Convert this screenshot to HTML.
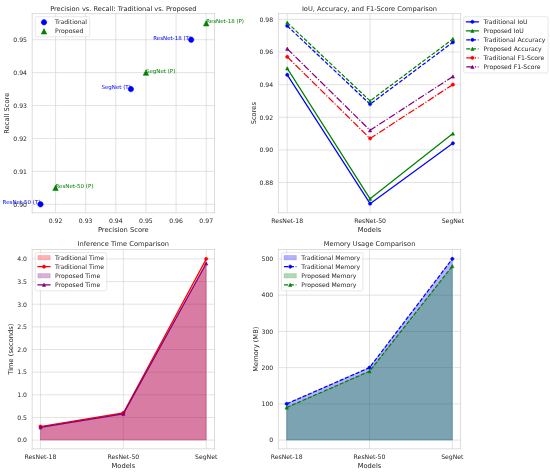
<!DOCTYPE html>
<html><head><meta charset="utf-8"><title>Model comparison</title>
<style>html,body{margin:0;padding:0;background:#fff}svg{display:block}</style></head>
<body>
<svg width="550" height="473" viewBox="0 0 1008 866.88" preserveAspectRatio="none">
 
 <defs>
  <style type="text/css">*{stroke-linejoin: round; stroke-linecap: butt}</style>
 </defs>
 <g id="figure_1">
  <g id="patch_1">
   <path d="M 0 866.88 
L 1008 866.88 
L 1008 0 
L 0 0 
z
" style="fill: #ffffff"/>
  </g>
  <g id="axes_1">
   <g id="patch_2">
    <path d="M 59.013818 389.912727 
L 393.12 389.912727 
L 393.12 24.925091 
L 59.013818 24.925091 
z
" style="fill: #ffffff"/>
   </g>
   <g id="matplotlib.axis_1">
    <g id="xtick_1">
     <g id="line2d_1">
      <path d="M 101.812544 389.912727 
L 101.812544 24.925091 
" clip-path="url(#pff23d3d60e)" style="fill: none; stroke: #cccccc; stroke-linecap: round"/>
     </g>
     <g id="text_1">
      <text style="font-size: 11.275px; font-family: 'DejaVu Sans', sans-serif; text-anchor: middle; fill: #262626" x="101.812544" y="407.979966" transform="rotate(-0 101.812544 407.979966)">0.92</text>
     </g>
    </g>
    <g id="xtick_2">
     <g id="line2d_2">
      <path d="M 157.036706 389.912727 
L 157.036706 24.925091 
" clip-path="url(#pff23d3d60e)" style="fill: none; stroke: #cccccc; stroke-linecap: round"/>
     </g>
     <g id="text_2">
      <text style="font-size: 11.275px; font-family: 'DejaVu Sans', sans-serif; text-anchor: middle; fill: #262626" x="157.036706" y="407.979966" transform="rotate(-0 157.036706 407.979966)">0.93</text>
     </g>
    </g>
    <g id="xtick_3">
     <g id="line2d_3">
      <path d="M 212.260869 389.912727 
L 212.260869 24.925091 
" clip-path="url(#pff23d3d60e)" style="fill: none; stroke: #cccccc; stroke-linecap: round"/>
     </g>
     <g id="text_3">
      <text style="font-size: 11.275px; font-family: 'DejaVu Sans', sans-serif; text-anchor: middle; fill: #262626" x="212.260869" y="407.979966" transform="rotate(-0 212.260869 407.979966)">0.94</text>
     </g>
    </g>
    <g id="xtick_4">
     <g id="line2d_4">
      <path d="M 267.485031 389.912727 
L 267.485031 24.925091 
" clip-path="url(#pff23d3d60e)" style="fill: none; stroke: #cccccc; stroke-linecap: round"/>
     </g>
     <g id="text_4">
      <text style="font-size: 11.275px; font-family: 'DejaVu Sans', sans-serif; text-anchor: middle; fill: #262626" x="267.485031" y="407.979966" transform="rotate(-0 267.485031 407.979966)">0.95</text>
     </g>
    </g>
    <g id="xtick_5">
     <g id="line2d_5">
      <path d="M 322.709193 389.912727 
L 322.709193 24.925091 
" clip-path="url(#pff23d3d60e)" style="fill: none; stroke: #cccccc; stroke-linecap: round"/>
     </g>
     <g id="text_5">
      <text style="font-size: 11.275px; font-family: 'DejaVu Sans', sans-serif; text-anchor: middle; fill: #262626" x="322.709193" y="407.979966" transform="rotate(-0 322.709193 407.979966)">0.96</text>
     </g>
    </g>
    <g id="xtick_6">
     <g id="line2d_6">
      <path d="M 377.933355 389.912727 
L 377.933355 24.925091 
" clip-path="url(#pff23d3d60e)" style="fill: none; stroke: #cccccc; stroke-linecap: round"/>
     </g>
     <g id="text_6">
      <text style="font-size: 11.275px; font-family: 'DejaVu Sans', sans-serif; text-anchor: middle; fill: #262626" x="377.933355" y="407.979966" transform="rotate(-0 377.933355 407.979966)">0.97</text>
     </g>
    </g>
    <g id="text_7">
     <text style="font-size: 12.3px; font-family: 'DejaVu Sans', sans-serif; text-anchor: middle; fill: #262626" x="226.066909" y="425.470891" transform="rotate(-0 226.066909 425.470891)">Precision Score</text>
    </g>
   </g>
   <g id="matplotlib.axis_2">
    <g id="ytick_1">
     <g id="line2d_7">
      <path d="M 59.013818 374.408294 
L 393.12 374.408294 
" clip-path="url(#pff23d3d60e)" style="fill: none; stroke: #cccccc; stroke-linecap: round"/>
     </g>
     <g id="text_8">
      <text style="font-size: 11.275px; font-family: 'DejaVu Sans', sans-serif; text-anchor: end; fill: #262626" x="49.513818" y="378.691913" transform="rotate(-0 49.513818 378.691913)">0.90</text>
     </g>
    </g>
    <g id="ytick_2">
     <g id="line2d_8">
      <path d="M 59.013818 314.079759 
L 393.12 314.079759 
" clip-path="url(#pff23d3d60e)" style="fill: none; stroke: #cccccc; stroke-linecap: round"/>
     </g>
     <g id="text_9">
      <text style="font-size: 11.275px; font-family: 'DejaVu Sans', sans-serif; text-anchor: end; fill: #262626" x="49.513818" y="318.363378" transform="rotate(-0 49.513818 318.363378)">0.91</text>
     </g>
    </g>
    <g id="ytick_3">
     <g id="line2d_9">
      <path d="M 59.013818 253.751224 
L 393.12 253.751224 
" clip-path="url(#pff23d3d60e)" style="fill: none; stroke: #cccccc; stroke-linecap: round"/>
     </g>
     <g id="text_10">
      <text style="font-size: 11.275px; font-family: 'DejaVu Sans', sans-serif; text-anchor: end; fill: #262626" x="49.513818" y="258.034843" transform="rotate(-0 49.513818 258.034843)">0.92</text>
     </g>
    </g>
    <g id="ytick_4">
     <g id="line2d_10">
      <path d="M 59.013818 193.422689 
L 393.12 193.422689 
" clip-path="url(#pff23d3d60e)" style="fill: none; stroke: #cccccc; stroke-linecap: round"/>
     </g>
     <g id="text_11">
      <text style="font-size: 11.275px; font-family: 'DejaVu Sans', sans-serif; text-anchor: end; fill: #262626" x="49.513818" y="197.706308" transform="rotate(-0 49.513818 197.706308)">0.93</text>
     </g>
    </g>
    <g id="ytick_5">
     <g id="line2d_11">
      <path d="M 59.013818 133.094154 
L 393.12 133.094154 
" clip-path="url(#pff23d3d60e)" style="fill: none; stroke: #cccccc; stroke-linecap: round"/>
     </g>
     <g id="text_12">
      <text style="font-size: 11.275px; font-family: 'DejaVu Sans', sans-serif; text-anchor: end; fill: #262626" x="49.513818" y="137.377773" transform="rotate(-0 49.513818 137.377773)">0.94</text>
     </g>
    </g>
    <g id="ytick_6">
     <g id="line2d_12">
      <path d="M 59.013818 72.765619 
L 393.12 72.765619 
" clip-path="url(#pff23d3d60e)" style="fill: none; stroke: #cccccc; stroke-linecap: round"/>
     </g>
     <g id="text_13">
      <text style="font-size: 11.275px; font-family: 'DejaVu Sans', sans-serif; text-anchor: end; fill: #262626" x="49.513818" y="77.049238" transform="rotate(-0 49.513818 77.049238)">0.95</text>
     </g>
    </g>
    <g id="text_14">
     <text style="font-size: 12.3px; font-family: 'DejaVu Sans', sans-serif; text-anchor: middle; fill: #262626" x="17.35131" y="207.418909" transform="rotate(-90 17.35131 207.418909)">Recall Score</text>
    </g>
   </g>
   <g id="PathCollection_1">
    
    <g clip-path="url(#pff23d3d60e)">
     <path d="M 0 5  C 1.326016 5 2.597899 4.473168 3.535534 3.535534  C 4.473168 2.597899 5 1.326016 5 0  C 5 -1.326016 4.473168 -2.597899 3.535534 -3.535534  C 2.597899 -4.473168 1.326016 -5 0 -5  C -1.326016 -5 -2.597899 -4.473168 -3.535534 -3.535534  C -4.473168 -2.597899 -5 -1.326016 -5 0  C -5 1.326016 -4.473168 2.597899 -3.535534 3.535534  C -2.597899 4.473168 -1.326016 5 0 5  z " transform="translate(350.321274 72.765619)" style="stroke: #0000ff;fill: #0000ff; stroke: #0000ff"/>
     <path d="M 0 5  C 1.326016 5 2.597899 4.473168 3.535534 3.535534  C 4.473168 2.597899 5 1.326016 5 0  C 5 -1.326016 4.473168 -2.597899 3.535534 -3.535534  C 2.597899 -4.473168 1.326016 -5 0 -5  C -1.326016 -5 -2.597899 -4.473168 -3.535534 -3.535534  C -4.473168 -2.597899 -5 -1.326016 -5 0  C -5 1.326016 -4.473168 2.597899 -3.535534 3.535534  C -2.597899 4.473168 -1.326016 5 0 5  z " transform="translate(74.200463 374.408294)" style="stroke: #0000ff;fill: #0000ff; stroke: #0000ff"/>
     <path d="M 0 5  C 1.326016 5 2.597899 4.473168 3.535534 3.535534  C 4.473168 2.597899 5 1.326016 5 0  C 5 -1.326016 4.473168 -2.597899 3.535534 -3.535534  C 2.597899 -4.473168 1.326016 -5 0 -5  C -1.326016 -5 -2.597899 -4.473168 -3.535534 -3.535534  C -4.473168 -2.597899 -5 -1.326016 -5 0  C -5 1.326016 -4.473168 2.597899 -3.535534 3.535534  C -2.597899 4.473168 -1.326016 5 0 5  z " transform="translate(239.87295 163.258422)" style="stroke: #0000ff;fill: #0000ff; stroke: #0000ff"/>
    </g>
   </g>
   <g id="PathCollection_2">
    
    <g clip-path="url(#pff23d3d60e)">
     <path d="M 0 -5  L -5 5  L 5 5  z " transform="translate(377.933355 42.601352)" style="stroke: #008000;fill: #008000; stroke: #008000"/>
     <path d="M 0 -5  L -5 5  L 5 5  z " transform="translate(101.812544 344.244026)" style="stroke: #008000;fill: #008000; stroke: #008000"/>
     <path d="M 0 -5  L -5 5  L 5 5  z " transform="translate(267.485031 133.094154)" style="stroke: #008000;fill: #008000; stroke: #008000"/>
    </g>
   </g>
   <g id="patch_3">
    <path d="M 59.013818 389.912727 
L 59.013818 24.925091 
" style="fill: none; stroke: #cccccc; stroke-width: 1.25; stroke-linejoin: miter; stroke-linecap: square"/>
   </g>
   <g id="patch_4">
    <path d="M 393.12 389.912727 
L 393.12 24.925091 
" style="fill: none; stroke: #cccccc; stroke-width: 1.25; stroke-linejoin: miter; stroke-linecap: square"/>
   </g>
   <g id="patch_5">
    <path d="M 59.013818 389.912727 
L 393.12 389.912727 
" style="fill: none; stroke: #cccccc; stroke-width: 1.25; stroke-linejoin: miter; stroke-linecap: square"/>
   </g>
   <g id="patch_6">
    <path d="M 59.013818 24.925091 
L 393.12 24.925091 
" style="fill: none; stroke: #cccccc; stroke-width: 1.25; stroke-linejoin: miter; stroke-linecap: square"/>
   </g>
   <g id="text_15">
    <text style="font-size: 10.1px; font-family: 'DejaVu Sans', sans-serif; text-anchor: end; fill: #0000ff" x="350.321274" y="72.765619" transform="rotate(-0 350.321274 72.765619)">ResNet-18 (T)</text>
   </g>
   <g id="text_16">
    <text style="font-size: 10.1px; font-family: 'DejaVu Sans', sans-serif; text-anchor: start; fill: #008000" x="377.933355" y="42.601352" transform="rotate(-0 377.933355 42.601352)">ResNet-18 (P)</text>
   </g>
   <g id="text_17">
    <text style="font-size: 10.1px; font-family: 'DejaVu Sans', sans-serif; text-anchor: end; fill: #0000ff" x="74.200463" y="374.408294" transform="rotate(-0 74.200463 374.408294)">ResNet-50 (T)</text>
   </g>
   <g id="text_18">
    <text style="font-size: 10.1px; font-family: 'DejaVu Sans', sans-serif; text-anchor: start; fill: #008000" x="101.812544" y="344.244026" transform="rotate(-0 101.812544 344.244026)">ResNet-50 (P)</text>
   </g>
   <g id="text_19">
    <text style="font-size: 10.1px; font-family: 'DejaVu Sans', sans-serif; text-anchor: end; fill: #0000ff" x="239.87295" y="163.258422" transform="rotate(-0 239.87295 163.258422)">SegNet (T)</text>
   </g>
   <g id="text_20">
    <text style="font-size: 10.1px; font-family: 'DejaVu Sans', sans-serif; text-anchor: start; fill: #008000" x="267.485031" y="133.094154" transform="rotate(-0 267.485031 133.094154)">SegNet (P)</text>
   </g>
   <g id="text_21">
    <text style="font-size: 12.2px; font-family: 'DejaVu Sans', sans-serif; text-anchor: middle; fill: #262626" x="226.066909" y="19.425091" transform="rotate(-0 226.066909 19.425091)">Precision vs. Recall: Traditional vs. Proposed</text>
   </g>
   <g id="legend_1">
    <g id="patch_7">
     <path d="M 66.906318 67.495263 
L 162.134263 67.495263 
Q 164.389263 67.495263 164.389263 65.240263 
L 164.389263 32.817591 
Q 164.389263 30.562591 162.134263 30.562591 
L 66.906318 30.562591 
Q 64.651318 30.562591 64.651318 32.817591 
L 64.651318 65.240263 
Q 64.651318 67.495263 66.906318 67.495263 
z
" style="fill: #ffffff; opacity: 0.8; stroke: #cccccc; stroke-linejoin: miter"/>
    </g>
    <g id="PathCollection_3">
     <g>
      <path d="M 0 5  C 1.326016 5 2.597899 4.473168 3.535534 3.535534  C 4.473168 2.597899 5 1.326016 5 0  C 5 -1.326016 4.473168 -2.597899 3.535534 -3.535534  C 2.597899 -4.473168 1.326016 -5 0 -5  C -1.326016 -5 -2.597899 -4.473168 -3.535534 -3.535534  C -4.473168 -2.597899 -5 -1.326016 -5 0  C -5 1.326016 -4.473168 2.597899 -3.535534 3.535534  C -2.597899 4.473168 -1.326016 5 0 5  z " transform="translate(80.661818 40.905642)" style="stroke: #0000ff;fill: #0000ff; stroke: #0000ff"/>
     </g>
    </g>
    <g id="text_22">
     <text style="font-size: 11.275px; font-family: 'DejaVu Sans', sans-serif; text-anchor: start; fill: #262626" x="100.956818" y="43.865329" transform="rotate(-0 100.956818 43.865329)">Traditional</text>
    </g>
    <g id="PathCollection_4">
     <g>
      <path d="M 0 -5  L -5 5  L 5 5  z " transform="translate(80.661818 57.455228)" style="stroke: #008000;fill: #008000; stroke: #008000"/>
     </g>
    </g>
    <g id="text_23">
     <text style="font-size: 11.275px; font-family: 'DejaVu Sans', sans-serif; text-anchor: start; fill: #262626" x="100.956818" y="60.414915" transform="rotate(-0 100.956818 60.414915)">Proposed</text>
    </g>
   </g>
  </g>
  <g id="axes_2">
   <g id="patch_8">
    <path d="M 510.231273 389.912727 
L 844.154182 389.912727 
L 844.154182 24.925091 
L 510.231273 24.925091 
z
" style="fill: #ffffff"/>
   </g>
   <g id="matplotlib.axis_3">
    <g id="xtick_7">
     <g id="line2d_13">
      <path d="M 526.472069 389.912727 
L 526.472069 24.925091 
" clip-path="url(#p5073bf8973)" style="fill: none; stroke: #cccccc; stroke-linecap: round"/>
     </g>
     <g id="text_24">
      <text style="font-size: 11.275px; font-family: 'DejaVu Sans', sans-serif; text-anchor: middle; fill: #262626" x="526.472069" y="407.979966" transform="rotate(-0 526.472069 407.979966)">ResNet-18</text>
     </g>
    </g>
    <g id="xtick_8">
     <g id="line2d_14">
      <path d="M 678.255209 389.912727 
L 678.255209 24.925091 
" clip-path="url(#p5073bf8973)" style="fill: none; stroke: #cccccc; stroke-linecap: round"/>
     </g>
     <g id="text_25">
      <text style="font-size: 11.275px; font-family: 'DejaVu Sans', sans-serif; text-anchor: middle; fill: #262626" x="678.255209" y="407.979966" transform="rotate(-0 678.255209 407.979966)">ResNet-50</text>
     </g>
    </g>
    <g id="xtick_9">
     <g id="line2d_15">
      <path d="M 830.03835 389.912727 
L 830.03835 24.925091 
" clip-path="url(#p5073bf8973)" style="fill: none; stroke: #cccccc; stroke-linecap: round"/>
     </g>
     <g id="text_26">
      <text style="font-size: 11.275px; font-family: 'DejaVu Sans', sans-serif; text-anchor: middle; fill: #262626" x="830.03835" y="407.979966" transform="rotate(-0 830.03835 407.979966)">SegNet</text>
     </g>
    </g>
    <g id="text_27">
     <text style="font-size: 12.3px; font-family: 'DejaVu Sans', sans-serif; text-anchor: middle; fill: #262626" x="677.192727" y="425.470891" transform="rotate(-0 677.192727 425.470891)">Models</text>
    </g>
   </g>
   <g id="matplotlib.axis_4">
    <g id="ytick_7">
     <g id="line2d_16">
      <path d="M 510.231273 334.462108 
L 844.154182 334.462108 
" clip-path="url(#p5073bf8973)" style="fill: none; stroke: #cccccc; stroke-linecap: round"/>
     </g>
     <g id="text_28">
      <text style="font-size: 11.275px; font-family: 'DejaVu Sans', sans-serif; text-anchor: end; fill: #262626" x="500.731273" y="338.745727" transform="rotate(-0 500.731273 338.745727)">0.88</text>
     </g>
    </g>
    <g id="ytick_8">
     <g id="line2d_17">
      <path d="M 510.231273 274.677073 
L 844.154182 274.677073 
" clip-path="url(#p5073bf8973)" style="fill: none; stroke: #cccccc; stroke-linecap: round"/>
     </g>
     <g id="text_29">
      <text style="font-size: 11.275px; font-family: 'DejaVu Sans', sans-serif; text-anchor: end; fill: #262626" x="500.731273" y="278.960692" transform="rotate(-0 500.731273 278.960692)">0.90</text>
     </g>
    </g>
    <g id="ytick_9">
     <g id="line2d_18">
      <path d="M 510.231273 214.892038 
L 844.154182 214.892038 
" clip-path="url(#p5073bf8973)" style="fill: none; stroke: #cccccc; stroke-linecap: round"/>
     </g>
     <g id="text_30">
      <text style="font-size: 11.275px; font-family: 'DejaVu Sans', sans-serif; text-anchor: end; fill: #262626" x="500.731273" y="219.175658" transform="rotate(-0 500.731273 219.175658)">0.92</text>
     </g>
    </g>
    <g id="ytick_10">
     <g id="line2d_19">
      <path d="M 510.231273 155.107004 
L 844.154182 155.107004 
" clip-path="url(#p5073bf8973)" style="fill: none; stroke: #cccccc; stroke-linecap: round"/>
     </g>
     <g id="text_31">
      <text style="font-size: 11.275px; font-family: 'DejaVu Sans', sans-serif; text-anchor: end; fill: #262626" x="500.731273" y="159.390623" transform="rotate(-0 500.731273 159.390623)">0.94</text>
     </g>
    </g>
    <g id="ytick_11">
     <g id="line2d_20">
      <path d="M 510.231273 95.321969 
L 844.154182 95.321969 
" clip-path="url(#p5073bf8973)" style="fill: none; stroke: #cccccc; stroke-linecap: round"/>
     </g>
     <g id="text_32">
      <text style="font-size: 11.275px; font-family: 'DejaVu Sans', sans-serif; text-anchor: end; fill: #262626" x="500.731273" y="99.605588" transform="rotate(-0 500.731273 99.605588)">0.96</text>
     </g>
    </g>
    <g id="ytick_12">
     <g id="line2d_21">
      <path d="M 510.231273 35.536935 
L 844.154182 35.536935 
" clip-path="url(#p5073bf8973)" style="fill: none; stroke: #cccccc; stroke-linecap: round"/>
     </g>
     <g id="text_33">
      <text style="font-size: 11.275px; font-family: 'DejaVu Sans', sans-serif; text-anchor: end; fill: #262626" x="500.731273" y="39.820554" transform="rotate(-0 500.731273 39.820554)">0.98</text>
     </g>
    </g>
    <g id="text_34">
     <text style="font-size: 12.3px; font-family: 'DejaVu Sans', sans-serif; text-anchor: middle; fill: #262626" x="468.568765" y="207.418909" transform="rotate(-90 468.568765 207.418909)">Scores</text>
    </g>
   </g>
   <g id="line2d_22">
    <path d="M 526.472069 137.171493 
L 678.255209 373.32238 
L 830.03835 262.720066 
" clip-path="url(#p5073bf8973)" style="fill: none; stroke: #0000ff; stroke-width: 2.25; stroke-linecap: round"/>
    
    <g clip-path="url(#p5073bf8973)">
     <path d="M 0 3  C 0.795609 3 1.55874 2.683901 2.12132 2.12132  C 2.683901 1.55874 3 0.795609 3 0  C 3 -0.795609 2.683901 -1.55874 2.12132 -2.12132  C 1.55874 -2.683901 0.795609 -3 0 -3  C -0.795609 -3 -1.55874 -2.683901 -2.12132 -2.12132  C -2.683901 -1.55874 -3 -0.795609 -3 0  C -3 0.795609 -2.683901 1.55874 -2.12132 2.12132  C -1.55874 2.683901 -0.795609 3 0 3  z " transform="translate(526.472069 137.171493)" style="stroke: #0000ff;fill: #0000ff; stroke: #0000ff"/>
     <path d="M 0 3  C 0.795609 3 1.55874 2.683901 2.12132 2.12132  C 2.683901 1.55874 3 0.795609 3 0  C 3 -0.795609 2.683901 -1.55874 2.12132 -2.12132  C 1.55874 -2.683901 0.795609 -3 0 -3  C -0.795609 -3 -1.55874 -2.683901 -2.12132 -2.12132  C -2.683901 -1.55874 -3 -0.795609 -3 0  C -3 0.795609 -2.683901 1.55874 -2.12132 2.12132  C -1.55874 2.683901 -0.795609 3 0 3  z " transform="translate(678.255209 373.32238)" style="stroke: #0000ff;fill: #0000ff; stroke: #0000ff"/>
     <path d="M 0 3  C 0.795609 3 1.55874 2.683901 2.12132 2.12132  C 2.683901 1.55874 3 0.795609 3 0  C 3 -0.795609 2.683901 -1.55874 2.12132 -2.12132  C 1.55874 -2.683901 0.795609 -3 0 -3  C -0.795609 -3 -1.55874 -2.683901 -2.12132 -2.12132  C -2.683901 -1.55874 -3 -0.795609 -3 0  C -3 0.795609 -2.683901 1.55874 -2.12132 2.12132  C -1.55874 2.683901 -0.795609 3 0 3  z " transform="translate(830.03835 262.720066)" style="stroke: #0000ff;fill: #0000ff; stroke: #0000ff"/>
    </g>
   </g>
   <g id="line2d_23">
    <path d="M 526.472069 125.214486 
L 678.255209 364.354625 
L 830.03835 244.784556 
" clip-path="url(#p5073bf8973)" style="fill: none; stroke: #008000; stroke-width: 2.25; stroke-linecap: round"/>
    
    <g clip-path="url(#p5073bf8973)">
     <path d="M 0 -3  L -3 3  L 3 3  z " transform="translate(526.472069 125.214486)" style="stroke: #008000; stroke-linejoin: miter;fill: #008000; stroke: #008000; stroke-linejoin: miter"/>
     <path d="M 0 -3  L -3 3  L 3 3  z " transform="translate(678.255209 364.354625)" style="stroke: #008000; stroke-linejoin: miter;fill: #008000; stroke: #008000; stroke-linejoin: miter"/>
     <path d="M 0 -3  L -3 3  L 3 3  z " transform="translate(830.03835 244.784556)" style="stroke: #008000; stroke-linejoin: miter;fill: #008000; stroke: #008000; stroke-linejoin: miter"/>
    </g>
   </g>
   <g id="line2d_24">
    <path d="M 526.472069 47.493941 
L 678.255209 190.978025 
L 830.03835 77.386459 
" clip-path="url(#p5073bf8973)" style="fill: none; stroke-dasharray: 7.4,3.2; stroke-dashoffset: 0; stroke: #0000ff; stroke-width: 2.25"/>
    <g clip-path="url(#p5073bf8973)">
     <path d="M 0 3  C 0.795609 3 1.55874 2.683901 2.12132 2.12132  C 2.683901 1.55874 3 0.795609 3 0  C 3 -0.795609 2.683901 -1.55874 2.12132 -2.12132  C 1.55874 -2.683901 0.795609 -3 0 -3  C -0.795609 -3 -1.55874 -2.683901 -2.12132 -2.12132  C -2.683901 -1.55874 -3 -0.795609 -3 0  C -3 0.795609 -2.683901 1.55874 -2.12132 2.12132  C -1.55874 2.683901 -0.795609 3 0 3  z " transform="translate(526.472069 47.493941)" style="stroke: #0000ff;fill: #0000ff; stroke: #0000ff"/>
     <path d="M 0 3  C 0.795609 3 1.55874 2.683901 2.12132 2.12132  C 2.683901 1.55874 3 0.795609 3 0  C 3 -0.795609 2.683901 -1.55874 2.12132 -2.12132  C 1.55874 -2.683901 0.795609 -3 0 -3  C -0.795609 -3 -1.55874 -2.683901 -2.12132 -2.12132  C -2.683901 -1.55874 -3 -0.795609 -3 0  C -3 0.795609 -2.683901 1.55874 -2.12132 2.12132  C -1.55874 2.683901 -0.795609 3 0 3  z " transform="translate(678.255209 190.978025)" style="stroke: #0000ff;fill: #0000ff; stroke: #0000ff"/>
     <path d="M 0 3  C 0.795609 3 1.55874 2.683901 2.12132 2.12132  C 2.683901 1.55874 3 0.795609 3 0  C 3 -0.795609 2.683901 -1.55874 2.12132 -2.12132  C 1.55874 -2.683901 0.795609 -3 0 -3  C -0.795609 -3 -1.55874 -2.683901 -2.12132 -2.12132  C -2.683901 -1.55874 -3 -0.795609 -3 0  C -3 0.795609 -2.683901 1.55874 -2.12132 2.12132  C -1.55874 2.683901 -0.795609 3 0 3  z " transform="translate(830.03835 77.386459)" style="stroke: #0000ff;fill: #0000ff; stroke: #0000ff"/>
    </g>
   </g>
   <g id="line2d_25">
    <path d="M 526.472069 41.515438 
L 678.255209 184.999521 
L 830.03835 71.407955 
" clip-path="url(#p5073bf8973)" style="fill: none; stroke-dasharray: 7.4,3.2; stroke-dashoffset: 0; stroke: #008000; stroke-width: 2.25"/>
    <g clip-path="url(#p5073bf8973)">
     <path d="M 0 -3  L -3 3  L 3 3  z " transform="translate(526.472069 41.515438)" style="stroke: #008000; stroke-linejoin: miter;fill: #008000; stroke: #008000; stroke-linejoin: miter"/>
     <path d="M 0 -3  L -3 3  L 3 3  z " transform="translate(678.255209 184.999521)" style="stroke: #008000; stroke-linejoin: miter;fill: #008000; stroke: #008000; stroke-linejoin: miter"/>
     <path d="M 0 -3  L -3 3  L 3 3  z " transform="translate(830.03835 71.407955)" style="stroke: #008000; stroke-linejoin: miter;fill: #008000; stroke: #008000; stroke-linejoin: miter"/>
    </g>
   </g>
   <g id="line2d_26">
    <path d="M 526.472069 104.289724 
L 678.255209 253.752311 
L 830.03835 155.107004 
" clip-path="url(#p5073bf8973)" style="fill: none; stroke-dasharray: 12.8,3.2,2,3.2; stroke-dashoffset: 0; stroke: #ff0000; stroke-width: 2.25"/>
    
    <g clip-path="url(#p5073bf8973)">
     <path d="M 0 3  C 0.795609 3 1.55874 2.683901 2.12132 2.12132  C 2.683901 1.55874 3 0.795609 3 0  C 3 -0.795609 2.683901 -1.55874 2.12132 -2.12132  C 1.55874 -2.683901 0.795609 -3 0 -3  C -0.795609 -3 -1.55874 -2.683901 -2.12132 -2.12132  C -2.683901 -1.55874 -3 -0.795609 -3 0  C -3 0.795609 -2.683901 1.55874 -2.12132 2.12132  C -1.55874 2.683901 -0.795609 3 0 3  z " transform="translate(526.472069 104.289724)" style="stroke: #ff0000;fill: #ff0000; stroke: #ff0000"/>
     <path d="M 0 3  C 0.795609 3 1.55874 2.683901 2.12132 2.12132  C 2.683901 1.55874 3 0.795609 3 0  C 3 -0.795609 2.683901 -1.55874 2.12132 -2.12132  C 1.55874 -2.683901 0.795609 -3 0 -3  C -0.795609 -3 -1.55874 -2.683901 -2.12132 -2.12132  C -2.683901 -1.55874 -3 -0.795609 -3 0  C -3 0.795609 -2.683901 1.55874 -2.12132 2.12132  C -1.55874 2.683901 -0.795609 3 0 3  z " transform="translate(678.255209 253.752311)" style="stroke: #ff0000;fill: #ff0000; stroke: #ff0000"/>
     <path d="M 0 3  C 0.795609 3 1.55874 2.683901 2.12132 2.12132  C 2.683901 1.55874 3 0.795609 3 0  C 3 -0.795609 2.683901 -1.55874 2.12132 -2.12132  C 1.55874 -2.683901 0.795609 -3 0 -3  C -0.795609 -3 -1.55874 -2.683901 -2.12132 -2.12132  C -2.683901 -1.55874 -3 -0.795609 -3 0  C -3 0.795609 -2.683901 1.55874 -2.12132 2.12132  C -1.55874 2.683901 -0.795609 3 0 3  z " transform="translate(830.03835 155.107004)" style="stroke: #ff0000;fill: #ff0000; stroke: #ff0000"/>
    </g>
   </g>
   <g id="line2d_27">
    <path d="M 526.472069 89.343466 
L 678.255209 238.806052 
L 830.03835 140.160745 
" clip-path="url(#p5073bf8973)" style="fill: none; stroke-dasharray: 12.8,3.2,2,3.2; stroke-dashoffset: 0; stroke: #800080; stroke-width: 2.25"/>
    
    <g clip-path="url(#p5073bf8973)">
     <path d="M 0 -3  L -3 3  L 3 3  z " transform="translate(526.472069 89.343466)" style="stroke: #800080; stroke-linejoin: miter;fill: #800080; stroke: #800080; stroke-linejoin: miter"/>
     <path d="M 0 -3  L -3 3  L 3 3  z " transform="translate(678.255209 238.806052)" style="stroke: #800080; stroke-linejoin: miter;fill: #800080; stroke: #800080; stroke-linejoin: miter"/>
     <path d="M 0 -3  L -3 3  L 3 3  z " transform="translate(830.03835 140.160745)" style="stroke: #800080; stroke-linejoin: miter;fill: #800080; stroke: #800080; stroke-linejoin: miter"/>
    </g>
   </g>
   <g id="patch_9">
    <path d="M 510.231273 389.912727 
L 510.231273 24.925091 
" style="fill: none; stroke: #cccccc; stroke-width: 1.25; stroke-linejoin: miter; stroke-linecap: square"/>
   </g>
   <g id="patch_10">
    <path d="M 844.154182 389.912727 
L 844.154182 24.925091 
" style="fill: none; stroke: #cccccc; stroke-width: 1.25; stroke-linejoin: miter; stroke-linecap: square"/>
   </g>
   <g id="patch_11">
    <path d="M 510.231273 389.912727 
L 844.154182 389.912727 
" style="fill: none; stroke: #cccccc; stroke-width: 1.25; stroke-linejoin: miter; stroke-linecap: square"/>
   </g>
   <g id="patch_12">
    <path d="M 510.231273 24.925091 
L 844.154182 24.925091 
" style="fill: none; stroke: #cccccc; stroke-width: 1.25; stroke-linejoin: miter; stroke-linecap: square"/>
   </g>
   <g id="text_35">
    <text style="font-size: 12.2px; font-family: 'DejaVu Sans', sans-serif; text-anchor: middle; fill: #262626" x="677.192727" y="19.425091" transform="rotate(-0 677.192727 19.425091)">IoU, Accuracy, and F1-Score Comparison</text>
   </g>
   <g id="legend_2">
    <g id="patch_13">
     <path d="M 852.046682 133.693607 
L 1002.335385 133.693607 
Q 1004.590385 133.693607 1004.590385 131.438607 
L 1004.590385 32.817591 
Q 1004.590385 30.562591 1002.335385 30.562591 
L 852.046682 30.562591 
Q 849.791682 30.562591 849.791682 32.817591 
L 849.791682 131.438607 
Q 849.791682 133.693607 852.046682 133.693607 
z
" style="fill: #ffffff; opacity: 0.8; stroke: #cccccc; stroke-linejoin: miter"/>
    </g>
    <g id="line2d_28">
     <path d="M 854.527182 39.919079 
L 865.802182 39.919079 
L 877.077182 39.919079 
" style="fill: none; stroke: #0000ff; stroke-width: 2.25; stroke-linecap: round"/>
     <g>
      <path d="M 0 3  C 0.795609 3 1.55874 2.683901 2.12132 2.12132  C 2.683901 1.55874 3 0.795609 3 0  C 3 -0.795609 2.683901 -1.55874 2.12132 -2.12132  C 1.55874 -2.683901 0.795609 -3 0 -3  C -0.795609 -3 -1.55874 -2.683901 -2.12132 -2.12132  C -2.683901 -1.55874 -3 -0.795609 -3 0  C -3 0.795609 -2.683901 1.55874 -2.12132 2.12132  C -1.55874 2.683901 -0.795609 3 0 3  z " transform="translate(865.802182 39.919079)" style="stroke: #0000ff;fill: #0000ff; stroke: #0000ff"/>
     </g>
    </g>
    <g id="text_36">
     <text style="font-size: 11.275px; font-family: 'DejaVu Sans', sans-serif; text-anchor: start; fill: #262626" x="886.097182" y="43.865329" transform="rotate(-0 886.097182 43.865329)">Traditional IoU</text>
    </g>
    <g id="line2d_29">
     <path d="M 854.527182 56.468665 
L 865.802182 56.468665 
L 877.077182 56.468665 
" style="fill: none; stroke: #008000; stroke-width: 2.25; stroke-linecap: round"/>
     <g>
      <path d="M 0 -3  L -3 3  L 3 3  z " transform="translate(865.802182 56.468665)" style="stroke: #008000; stroke-linejoin: miter;fill: #008000; stroke: #008000; stroke-linejoin: miter"/>
     </g>
    </g>
    <g id="text_37">
     <text style="font-size: 11.275px; font-family: 'DejaVu Sans', sans-serif; text-anchor: start; fill: #262626" x="886.097182" y="60.414915" transform="rotate(-0 886.097182 60.414915)">Proposed IoU</text>
    </g>
    <g id="line2d_30">
     <path d="M 854.527182 73.018251 
L 865.802182 73.018251 
L 877.077182 73.018251 
" style="fill: none; stroke-dasharray: 7.4,3.2; stroke-dashoffset: 0; stroke: #0000ff; stroke-width: 2.25"/>
     <g>
      <path d="M 0 3  C 0.795609 3 1.55874 2.683901 2.12132 2.12132  C 2.683901 1.55874 3 0.795609 3 0  C 3 -0.795609 2.683901 -1.55874 2.12132 -2.12132  C 1.55874 -2.683901 0.795609 -3 0 -3  C -0.795609 -3 -1.55874 -2.683901 -2.12132 -2.12132  C -2.683901 -1.55874 -3 -0.795609 -3 0  C -3 0.795609 -2.683901 1.55874 -2.12132 2.12132  C -1.55874 2.683901 -0.795609 3 0 3  z " transform="translate(865.802182 73.018251)" style="stroke: #0000ff;fill: #0000ff; stroke: #0000ff"/>
     </g>
    </g>
    <g id="text_38">
     <text style="font-size: 11.275px; font-family: 'DejaVu Sans', sans-serif; text-anchor: start; fill: #262626" x="886.097182" y="76.964501" transform="rotate(-0 886.097182 76.964501)">Traditional Accuracy</text>
    </g>
    <g id="line2d_31">
     <path d="M 854.527182 89.567837 
L 865.802182 89.567837 
L 877.077182 89.567837 
" style="fill: none; stroke-dasharray: 7.4,3.2; stroke-dashoffset: 0; stroke: #008000; stroke-width: 2.25"/>
     <g>
      <path d="M 0 -3  L -3 3  L 3 3  z " transform="translate(865.802182 89.567837)" style="stroke: #008000; stroke-linejoin: miter;fill: #008000; stroke: #008000; stroke-linejoin: miter"/>
     </g>
    </g>
    <g id="text_39">
     <text style="font-size: 11.275px; font-family: 'DejaVu Sans', sans-serif; text-anchor: start; fill: #262626" x="886.097182" y="93.514087" transform="rotate(-0 886.097182 93.514087)">Proposed Accuracy</text>
    </g>
    <g id="line2d_32">
     <path d="M 854.527182 106.117423 
L 865.802182 106.117423 
L 877.077182 106.117423 
" style="fill: none; stroke-dasharray: 12.8,3.2,2,3.2; stroke-dashoffset: 0; stroke: #ff0000; stroke-width: 2.25"/>
     <g>
      <path d="M 0 3  C 0.795609 3 1.55874 2.683901 2.12132 2.12132  C 2.683901 1.55874 3 0.795609 3 0  C 3 -0.795609 2.683901 -1.55874 2.12132 -2.12132  C 1.55874 -2.683901 0.795609 -3 0 -3  C -0.795609 -3 -1.55874 -2.683901 -2.12132 -2.12132  C -2.683901 -1.55874 -3 -0.795609 -3 0  C -3 0.795609 -2.683901 1.55874 -2.12132 2.12132  C -1.55874 2.683901 -0.795609 3 0 3  z " transform="translate(865.802182 106.117423)" style="stroke: #ff0000;fill: #ff0000; stroke: #ff0000"/>
     </g>
    </g>
    <g id="text_40">
     <text style="font-size: 11.275px; font-family: 'DejaVu Sans', sans-serif; text-anchor: start; fill: #262626" x="886.097182" y="110.063673" transform="rotate(-0 886.097182 110.063673)">Traditional F1-Score</text>
    </g>
    <g id="line2d_33">
     <path d="M 854.527182 122.667009 
L 865.802182 122.667009 
L 877.077182 122.667009 
" style="fill: none; stroke-dasharray: 12.8,3.2,2,3.2; stroke-dashoffset: 0; stroke: #800080; stroke-width: 2.25"/>
     <g>
      <path d="M 0 -3  L -3 3  L 3 3  z " transform="translate(865.802182 122.667009)" style="stroke: #800080; stroke-linejoin: miter;fill: #800080; stroke: #800080; stroke-linejoin: miter"/>
     </g>
    </g>
    <g id="text_41">
     <text style="font-size: 11.275px; font-family: 'DejaVu Sans', sans-serif; text-anchor: start; fill: #262626" x="886.097182" y="126.613259" transform="rotate(-0 886.097182 126.613259)">Proposed F1-Score</text>
    </g>
   </g>
  </g>
  <g id="axes_3">
   <g id="patch_14">
    <path d="M 59.013818 822.528 
L 393.12 822.528 
L 393.12 457.265455 
L 59.013818 457.265455 
z
" style="fill: #ffffff"/>
   </g>
   <g id="matplotlib.axis_5">
    <g id="xtick_10">
     <g id="line2d_34">
      <path d="M 74.200463 822.528 
L 74.200463 457.265455 
" clip-path="url(#p541cf270d9)" style="fill: none; stroke: #cccccc; stroke-linecap: round"/>
     </g>
     <g id="text_42">
      <text style="font-size: 11.275px; font-family: 'DejaVu Sans', sans-serif; text-anchor: middle; fill: #262626" x="74.200463" y="840.595238" transform="rotate(-0 74.200463 840.595238)">ResNet-18</text>
     </g>
    </g>
    <g id="xtick_11">
     <g id="line2d_35">
      <path d="M 226.066909 822.528 
L 226.066909 457.265455 
" clip-path="url(#p541cf270d9)" style="fill: none; stroke: #cccccc; stroke-linecap: round"/>
     </g>
     <g id="text_43">
      <text style="font-size: 11.275px; font-family: 'DejaVu Sans', sans-serif; text-anchor: middle; fill: #262626" x="226.066909" y="840.595238" transform="rotate(-0 226.066909 840.595238)">ResNet-50</text>
     </g>
    </g>
    <g id="xtick_12">
     <g id="line2d_36">
      <path d="M 377.933355 822.528 
L 377.933355 457.265455 
" clip-path="url(#p541cf270d9)" style="fill: none; stroke: #cccccc; stroke-linecap: round"/>
     </g>
     <g id="text_44">
      <text style="font-size: 11.275px; font-family: 'DejaVu Sans', sans-serif; text-anchor: middle; fill: #262626" x="377.933355" y="840.595238" transform="rotate(-0 377.933355 840.595238)">SegNet</text>
     </g>
    </g>
    <g id="text_45">
     <text style="font-size: 12.3px; font-family: 'DejaVu Sans', sans-serif; text-anchor: middle; fill: #262626" x="226.066909" y="858.086164" transform="rotate(-0 226.066909 858.086164)">Models</text>
    </g>
   </g>
   <g id="matplotlib.axis_6">
    <g id="ytick_13">
     <g id="line2d_37">
      <path d="M 59.013818 806.589271 
L 393.12 806.589271 
" clip-path="url(#p541cf270d9)" style="fill: none; stroke: #cccccc; stroke-linecap: round"/>
     </g>
     <g id="text_46">
      <text style="font-size: 11.275px; font-family: 'DejaVu Sans', sans-serif; text-anchor: end; fill: #262626" x="49.513818" y="810.87289" transform="rotate(-0 49.513818 810.87289)">0.0</text>
     </g>
    </g>
    <g id="ytick_14">
     <g id="line2d_38">
      <path d="M 59.013818 765.082163 
L 393.12 765.082163 
" clip-path="url(#p541cf270d9)" style="fill: none; stroke: #cccccc; stroke-linecap: round"/>
     </g>
     <g id="text_47">
      <text style="font-size: 11.275px; font-family: 'DejaVu Sans', sans-serif; text-anchor: end; fill: #262626" x="49.513818" y="769.365782" transform="rotate(-0 49.513818 769.365782)">0.5</text>
     </g>
    </g>
    <g id="ytick_15">
     <g id="line2d_39">
      <path d="M 59.013818 723.575056 
L 393.12 723.575056 
" clip-path="url(#p541cf270d9)" style="fill: none; stroke: #cccccc; stroke-linecap: round"/>
     </g>
     <g id="text_48">
      <text style="font-size: 11.275px; font-family: 'DejaVu Sans', sans-serif; text-anchor: end; fill: #262626" x="49.513818" y="727.858675" transform="rotate(-0 49.513818 727.858675)">1.0</text>
     </g>
    </g>
    <g id="ytick_16">
     <g id="line2d_40">
      <path d="M 59.013818 682.067948 
L 393.12 682.067948 
" clip-path="url(#p541cf270d9)" style="fill: none; stroke: #cccccc; stroke-linecap: round"/>
     </g>
     <g id="text_49">
      <text style="font-size: 11.275px; font-family: 'DejaVu Sans', sans-serif; text-anchor: end; fill: #262626" x="49.513818" y="686.351568" transform="rotate(-0 49.513818 686.351568)">1.5</text>
     </g>
    </g>
    <g id="ytick_17">
     <g id="line2d_41">
      <path d="M 59.013818 640.560841 
L 393.12 640.560841 
" clip-path="url(#p541cf270d9)" style="fill: none; stroke: #cccccc; stroke-linecap: round"/>
     </g>
     <g id="text_50">
      <text style="font-size: 11.275px; font-family: 'DejaVu Sans', sans-serif; text-anchor: end; fill: #262626" x="49.513818" y="644.84446" transform="rotate(-0 49.513818 644.84446)">2.0</text>
     </g>
    </g>
    <g id="ytick_18">
     <g id="line2d_42">
      <path d="M 59.013818 599.053734 
L 393.12 599.053734 
" clip-path="url(#p541cf270d9)" style="fill: none; stroke: #cccccc; stroke-linecap: round"/>
     </g>
     <g id="text_51">
      <text style="font-size: 11.275px; font-family: 'DejaVu Sans', sans-serif; text-anchor: end; fill: #262626" x="49.513818" y="603.337353" transform="rotate(-0 49.513818 603.337353)">2.5</text>
     </g>
    </g>
    <g id="ytick_19">
     <g id="line2d_43">
      <path d="M 59.013818 557.546626 
L 393.12 557.546626 
" clip-path="url(#p541cf270d9)" style="fill: none; stroke: #cccccc; stroke-linecap: round"/>
     </g>
     <g id="text_52">
      <text style="font-size: 11.275px; font-family: 'DejaVu Sans', sans-serif; text-anchor: end; fill: #262626" x="49.513818" y="561.830245" transform="rotate(-0 49.513818 561.830245)">3.0</text>
     </g>
    </g>
    <g id="ytick_20">
     <g id="line2d_44">
      <path d="M 59.013818 516.039519 
L 393.12 516.039519 
" clip-path="url(#p541cf270d9)" style="fill: none; stroke: #cccccc; stroke-linecap: round"/>
     </g>
     <g id="text_53">
      <text style="font-size: 11.275px; font-family: 'DejaVu Sans', sans-serif; text-anchor: end; fill: #262626" x="49.513818" y="520.323138" transform="rotate(-0 49.513818 520.323138)">3.5</text>
     </g>
    </g>
    <g id="ytick_21">
     <g id="line2d_45">
      <path d="M 59.013818 474.532411 
L 393.12 474.532411 
" clip-path="url(#p541cf270d9)" style="fill: none; stroke: #cccccc; stroke-linecap: round"/>
     </g>
     <g id="text_54">
      <text style="font-size: 11.275px; font-family: 'DejaVu Sans', sans-serif; text-anchor: end; fill: #262626" x="49.513818" y="478.81603" transform="rotate(-0 49.513818 478.81603)">4.0</text>
     </g>
    </g>
    <g id="text_55">
     <text style="font-size: 12.3px; font-family: 'DejaVu Sans', sans-serif; text-anchor: middle; fill: #262626" x="24.525029" y="639.896727" transform="rotate(-90 24.525029 639.896727)">Time (seconds)</text>
    </g>
   </g>
   <g id="FillBetweenPolyCollection_1">
    
    <g clip-path="url(#p541cf270d9)">
     <path d="M 74.200463 -60.290729  L 74.200463 -85.194994  L 226.066909 -110.099258  L 377.933355 -392.347589  L 377.933355 -60.290729  L 377.933355 -60.290729  L 226.066909 -60.290729  L 74.200463 -60.290729  z " transform="translate(0 866.88)" style="stroke: #ff0000; stroke-opacity: 0.3;fill: #ff0000; fill-opacity: 0.3; stroke: #ff0000; stroke-opacity: 0.3"/>
    </g>
   </g>
   <g id="FillBetweenPolyCollection_2">
    
    <g clip-path="url(#p541cf270d9)">
     <path d="M 74.200463 -60.290729  L 74.200463 -83.534709  L 226.066909 -108.438974  L 377.933355 -384.046167  L 377.933355 -60.290729  L 377.933355 -60.290729  L 226.066909 -60.290729  L 74.200463 -60.290729  z " transform="translate(0 866.88)" style="stroke: #800080; stroke-opacity: 0.3;fill: #800080; fill-opacity: 0.3; stroke: #800080; stroke-opacity: 0.3"/>
    </g>
   </g>
   <g id="line2d_46">
    <path d="M 74.200463 781.685006 
L 226.066909 756.780742 
L 377.933355 474.532411 
" clip-path="url(#p541cf270d9)" style="fill: none; stroke: #ff0000; stroke-width: 2.25; stroke-linecap: round"/>
    <g clip-path="url(#p541cf270d9)">
     <path d="M 0 3  C 0.795609 3 1.55874 2.683901 2.12132 2.12132  C 2.683901 1.55874 3 0.795609 3 0  C 3 -0.795609 2.683901 -1.55874 2.12132 -2.12132  C 1.55874 -2.683901 0.795609 -3 0 -3  C -0.795609 -3 -1.55874 -2.683901 -2.12132 -2.12132  C -2.683901 -1.55874 -3 -0.795609 -3 0  C -3 0.795609 -2.683901 1.55874 -2.12132 2.12132  C -1.55874 2.683901 -0.795609 3 0 3  z " transform="translate(74.200463 781.685006)" style="stroke: #ff0000;fill: #ff0000; stroke: #ff0000"/>
     <path d="M 0 3  C 0.795609 3 1.55874 2.683901 2.12132 2.12132  C 2.683901 1.55874 3 0.795609 3 0  C 3 -0.795609 2.683901 -1.55874 2.12132 -2.12132  C 1.55874 -2.683901 0.795609 -3 0 -3  C -0.795609 -3 -1.55874 -2.683901 -2.12132 -2.12132  C -2.683901 -1.55874 -3 -0.795609 -3 0  C -3 0.795609 -2.683901 1.55874 -2.12132 2.12132  C -1.55874 2.683901 -0.795609 3 0 3  z " transform="translate(226.066909 756.780742)" style="stroke: #ff0000;fill: #ff0000; stroke: #ff0000"/>
     <path d="M 0 3  C 0.795609 3 1.55874 2.683901 2.12132 2.12132  C 2.683901 1.55874 3 0.795609 3 0  C 3 -0.795609 2.683901 -1.55874 2.12132 -2.12132  C 1.55874 -2.683901 0.795609 -3 0 -3  C -0.795609 -3 -1.55874 -2.683901 -2.12132 -2.12132  C -2.683901 -1.55874 -3 -0.795609 -3 0  C -3 0.795609 -2.683901 1.55874 -2.12132 2.12132  C -1.55874 2.683901 -0.795609 3 0 3  z " transform="translate(377.933355 474.532411)" style="stroke: #ff0000;fill: #ff0000; stroke: #ff0000"/>
    </g>
   </g>
   <g id="line2d_47">
    <path d="M 74.200463 783.345291 
L 226.066909 758.441026 
L 377.933355 482.833833 
" clip-path="url(#p541cf270d9)" style="fill: none; stroke: #800080; stroke-width: 2.25; stroke-linecap: round"/>
    <g clip-path="url(#p541cf270d9)">
     <path d="M 0 -3  L -3 3  L 3 3  z " transform="translate(74.200463 783.345291)" style="stroke: #800080; stroke-linejoin: miter;fill: #800080; stroke: #800080; stroke-linejoin: miter"/>
     <path d="M 0 -3  L -3 3  L 3 3  z " transform="translate(226.066909 758.441026)" style="stroke: #800080; stroke-linejoin: miter;fill: #800080; stroke: #800080; stroke-linejoin: miter"/>
     <path d="M 0 -3  L -3 3  L 3 3  z " transform="translate(377.933355 482.833833)" style="stroke: #800080; stroke-linejoin: miter;fill: #800080; stroke: #800080; stroke-linejoin: miter"/>
    </g>
   </g>
   <g id="patch_15">
    <path d="M 59.013818 822.528 
L 59.013818 457.265455 
" style="fill: none; stroke: #cccccc; stroke-width: 1.25; stroke-linejoin: miter; stroke-linecap: square"/>
   </g>
   <g id="patch_16">
    <path d="M 393.12 822.528 
L 393.12 457.265455 
" style="fill: none; stroke: #cccccc; stroke-width: 1.25; stroke-linejoin: miter; stroke-linecap: square"/>
   </g>
   <g id="patch_17">
    <path d="M 59.013818 822.528 
L 393.12 822.528 
" style="fill: none; stroke: #cccccc; stroke-width: 1.25; stroke-linejoin: miter; stroke-linecap: square"/>
   </g>
   <g id="patch_18">
    <path d="M 59.013818 457.265455 
L 393.12 457.265455 
" style="fill: none; stroke: #cccccc; stroke-width: 1.25; stroke-linejoin: miter; stroke-linecap: square"/>
   </g>
   <g id="text_56">
    <text style="font-size: 12.2px; font-family: 'DejaVu Sans', sans-serif; text-anchor: middle; fill: #262626" x="226.066909" y="451.765455" transform="rotate(-0 226.066909 451.765455)">Inference Time Comparison</text>
   </g>
   <g id="legend_3">
    <g id="patch_19">
     <path d="M 66.906318 532.934798 
L 193.304353 532.934798 
Q 195.559353 532.934798 195.559353 530.679798 
L 195.559353 465.157955 
Q 195.559353 462.902955 193.304353 462.902955 
L 66.906318 462.902955 
Q 64.651318 462.902955 64.651318 465.157955 
L 64.651318 530.679798 
Q 64.651318 532.934798 66.906318 532.934798 
z
" style="fill: #ffffff; opacity: 0.8; stroke: #cccccc; stroke-linejoin: miter"/>
    </g>
    <g id="patch_20">
     <path d="M 69.386818 476.205693 
L 91.936818 476.205693 
L 91.936818 468.313193 
L 69.386818 468.313193 
z
" style="fill: #ff0000; fill-opacity: 0.3; stroke: #ff0000; stroke-opacity: 0.3; stroke-linejoin: miter"/>
    </g>
    <g id="text_57">
     <text style="font-size: 11.275px; font-family: 'DejaVu Sans', sans-serif; text-anchor: start; fill: #262626" x="100.956818" y="476.205693" transform="rotate(-0 100.956818 476.205693)">Traditional Time</text>
    </g>
    <g id="line2d_48">
     <path d="M 69.386818 488.809029 
L 80.661818 488.809029 
L 91.936818 488.809029 
" style="fill: none; stroke: #ff0000; stroke-width: 2.25; stroke-linecap: round"/>
     <g>
      <path d="M 0 3  C 0.795609 3 1.55874 2.683901 2.12132 2.12132  C 2.683901 1.55874 3 0.795609 3 0  C 3 -0.795609 2.683901 -1.55874 2.12132 -2.12132  C 1.55874 -2.683901 0.795609 -3 0 -3  C -0.795609 -3 -1.55874 -2.683901 -2.12132 -2.12132  C -2.683901 -1.55874 -3 -0.795609 -3 0  C -3 0.795609 -2.683901 1.55874 -2.12132 2.12132  C -1.55874 2.683901 -0.795609 3 0 3  z " transform="translate(80.661818 488.809029)" style="stroke: #ff0000;fill: #ff0000; stroke: #ff0000"/>
     </g>
    </g>
    <g id="text_58">
     <text style="font-size: 11.275px; font-family: 'DejaVu Sans', sans-serif; text-anchor: start; fill: #262626" x="100.956818" y="492.755279" transform="rotate(-0 100.956818 492.755279)">Traditional Time</text>
    </g>
    <g id="patch_21">
     <path d="M 69.386818 509.304865 
L 91.936818 509.304865 
L 91.936818 501.412365 
L 69.386818 501.412365 
z
" style="fill: #800080; fill-opacity: 0.3; stroke: #800080; stroke-opacity: 0.3; stroke-linejoin: miter"/>
    </g>
    <g id="text_59">
     <text style="font-size: 11.275px; font-family: 'DejaVu Sans', sans-serif; text-anchor: start; fill: #262626" x="100.956818" y="509.304865" transform="rotate(-0 100.956818 509.304865)">Proposed Time</text>
    </g>
    <g id="line2d_49">
     <path d="M 69.386818 521.908201 
L 80.661818 521.908201 
L 91.936818 521.908201 
" style="fill: none; stroke: #800080; stroke-width: 2.25; stroke-linecap: round"/>
     <g>
      <path d="M 0 -3  L -3 3  L 3 3  z " transform="translate(80.661818 521.908201)" style="stroke: #800080; stroke-linejoin: miter;fill: #800080; stroke: #800080; stroke-linejoin: miter"/>
     </g>
    </g>
    <g id="text_60">
     <text style="font-size: 11.275px; font-family: 'DejaVu Sans', sans-serif; text-anchor: start; fill: #262626" x="100.956818" y="525.854451" transform="rotate(-0 100.956818 525.854451)">Proposed Time</text>
    </g>
   </g>
  </g>
  <g id="axes_4">
   <g id="patch_22">
    <path d="M 510.231273 822.528 
L 844.154182 822.528 
L 844.154182 457.265455 
L 510.231273 457.265455 
z
" style="fill: #ffffff"/>
   </g>
   <g id="matplotlib.axis_7">
    <g id="xtick_13">
     <g id="line2d_50">
      <path d="M 525.409587 822.528 
L 525.409587 457.265455 
" clip-path="url(#p1d5ae398d5)" style="fill: none; stroke: #cccccc; stroke-linecap: round"/>
     </g>
     <g id="text_61">
      <text style="font-size: 11.275px; font-family: 'DejaVu Sans', sans-serif; text-anchor: middle; fill: #262626" x="525.409587" y="840.595238" transform="rotate(-0 525.409587 840.595238)">ResNet-18</text>
     </g>
    </g>
    <g id="xtick_14">
     <g id="line2d_51">
      <path d="M 677.192727 822.528 
L 677.192727 457.265455 
" clip-path="url(#p1d5ae398d5)" style="fill: none; stroke: #cccccc; stroke-linecap: round"/>
     </g>
     <g id="text_62">
      <text style="font-size: 11.275px; font-family: 'DejaVu Sans', sans-serif; text-anchor: middle; fill: #262626" x="677.192727" y="840.595238" transform="rotate(-0 677.192727 840.595238)">ResNet-50</text>
     </g>
    </g>
    <g id="xtick_15">
     <g id="line2d_52">
      <path d="M 828.975868 822.528 
L 828.975868 457.265455 
" clip-path="url(#p1d5ae398d5)" style="fill: none; stroke: #cccccc; stroke-linecap: round"/>
     </g>
     <g id="text_63">
      <text style="font-size: 11.275px; font-family: 'DejaVu Sans', sans-serif; text-anchor: middle; fill: #262626" x="828.975868" y="840.595238" transform="rotate(-0 828.975868 840.595238)">SegNet</text>
     </g>
    </g>
    <g id="text_64">
     <text style="font-size: 12.3px; font-family: 'DejaVu Sans', sans-serif; text-anchor: middle; fill: #262626" x="677.192727" y="858.086164" transform="rotate(-0 677.192727 858.086164)">Models</text>
    </g>
   </g>
   <g id="matplotlib.axis_8">
    <g id="ytick_22">
     <g id="line2d_53">
      <path d="M 510.231273 806.589271 
L 844.154182 806.589271 
" clip-path="url(#p1d5ae398d5)" style="fill: none; stroke: #cccccc; stroke-linecap: round"/>
     </g>
     <g id="text_65">
      <text style="font-size: 11.275px; font-family: 'DejaVu Sans', sans-serif; text-anchor: end; fill: #262626" x="500.731273" y="810.87289" transform="rotate(-0 500.731273 810.87289)">0</text>
     </g>
    </g>
    <g id="ytick_23">
     <g id="line2d_54">
      <path d="M 510.231273 740.177899 
L 844.154182 740.177899 
" clip-path="url(#p1d5ae398d5)" style="fill: none; stroke: #cccccc; stroke-linecap: round"/>
     </g>
     <g id="text_66">
      <text style="font-size: 11.275px; font-family: 'DejaVu Sans', sans-serif; text-anchor: end; fill: #262626" x="500.731273" y="744.461518" transform="rotate(-0 500.731273 744.461518)">100</text>
     </g>
    </g>
    <g id="ytick_24">
     <g id="line2d_55">
      <path d="M 510.231273 673.766527 
L 844.154182 673.766527 
" clip-path="url(#p1d5ae398d5)" style="fill: none; stroke: #cccccc; stroke-linecap: round"/>
     </g>
     <g id="text_67">
      <text style="font-size: 11.275px; font-family: 'DejaVu Sans', sans-serif; text-anchor: end; fill: #262626" x="500.731273" y="678.050146" transform="rotate(-0 500.731273 678.050146)">200</text>
     </g>
    </g>
    <g id="ytick_25">
     <g id="line2d_56">
      <path d="M 510.231273 607.355155 
L 844.154182 607.355155 
" clip-path="url(#p1d5ae398d5)" style="fill: none; stroke: #cccccc; stroke-linecap: round"/>
     </g>
     <g id="text_68">
      <text style="font-size: 11.275px; font-family: 'DejaVu Sans', sans-serif; text-anchor: end; fill: #262626" x="500.731273" y="611.638774" transform="rotate(-0 500.731273 611.638774)">300</text>
     </g>
    </g>
    <g id="ytick_26">
     <g id="line2d_57">
      <path d="M 510.231273 540.943783 
L 844.154182 540.943783 
" clip-path="url(#p1d5ae398d5)" style="fill: none; stroke: #cccccc; stroke-linecap: round"/>
     </g>
     <g id="text_69">
      <text style="font-size: 11.275px; font-family: 'DejaVu Sans', sans-serif; text-anchor: end; fill: #262626" x="500.731273" y="545.227402" transform="rotate(-0 500.731273 545.227402)">400</text>
     </g>
    </g>
    <g id="ytick_27">
     <g id="line2d_58">
      <path d="M 510.231273 474.532411 
L 844.154182 474.532411 
" clip-path="url(#p1d5ae398d5)" style="fill: none; stroke: #cccccc; stroke-linecap: round"/>
     </g>
     <g id="text_70">
      <text style="font-size: 11.275px; font-family: 'DejaVu Sans', sans-serif; text-anchor: end; fill: #262626" x="500.731273" y="478.81603" transform="rotate(-0 500.731273 478.81603)">500</text>
     </g>
    </g>
    <g id="text_71">
     <text style="font-size: 12.3px; font-family: 'DejaVu Sans', sans-serif; text-anchor: middle; fill: #262626" x="472.152101" y="639.896727" transform="rotate(-90 472.152101 639.896727)">Memory (MB)</text>
    </g>
   </g>
   <g id="FillBetweenPolyCollection_3">
    
    <g clip-path="url(#p1d5ae398d5)">
     <path d="M 525.409587 -60.290729  L 525.409587 -126.702101  L 677.192727 -193.113473  L 828.975868 -392.347589  L 828.975868 -60.290729  L 828.975868 -60.290729  L 677.192727 -60.290729  L 525.409587 -60.290729  z " transform="translate(0 866.88)" style="stroke: #0000ff; stroke-opacity: 0.3;fill: #0000ff; fill-opacity: 0.3; stroke: #0000ff; stroke-opacity: 0.3"/>
    </g>
   </g>
   <g id="FillBetweenPolyCollection_4">
    
    <g clip-path="url(#p1d5ae398d5)">
     <path d="M 525.409587 -60.290729  L 525.409587 -120.060964  L 677.192727 -186.472336  L 828.975868 -379.065314  L 828.975868 -60.290729  L 828.975868 -60.290729  L 677.192727 -60.290729  L 525.409587 -60.290729  z " transform="translate(0 866.88)" style="stroke: #008000; stroke-opacity: 0.3;fill: #008000; fill-opacity: 0.3; stroke: #008000; stroke-opacity: 0.3"/>
    </g>
   </g>
   <g id="line2d_59">
    <path d="M 525.409587 740.177899 
L 677.192727 673.766527 
L 828.975868 474.532411 
" clip-path="url(#p1d5ae398d5)" style="fill: none; stroke-dasharray: 7.4,3.2; stroke-dashoffset: 0; stroke: #0000ff; stroke-width: 2.25"/>
    <g clip-path="url(#p1d5ae398d5)">
     <path d="M 0 3  C 0.795609 3 1.55874 2.683901 2.12132 2.12132  C 2.683901 1.55874 3 0.795609 3 0  C 3 -0.795609 2.683901 -1.55874 2.12132 -2.12132  C 1.55874 -2.683901 0.795609 -3 0 -3  C -0.795609 -3 -1.55874 -2.683901 -2.12132 -2.12132  C -2.683901 -1.55874 -3 -0.795609 -3 0  C -3 0.795609 -2.683901 1.55874 -2.12132 2.12132  C -1.55874 2.683901 -0.795609 3 0 3  z " transform="translate(525.409587 740.177899)" style="stroke: #0000ff;fill: #0000ff; stroke: #0000ff"/>
     <path d="M 0 3  C 0.795609 3 1.55874 2.683901 2.12132 2.12132  C 2.683901 1.55874 3 0.795609 3 0  C 3 -0.795609 2.683901 -1.55874 2.12132 -2.12132  C 1.55874 -2.683901 0.795609 -3 0 -3  C -0.795609 -3 -1.55874 -2.683901 -2.12132 -2.12132  C -2.683901 -1.55874 -3 -0.795609 -3 0  C -3 0.795609 -2.683901 1.55874 -2.12132 2.12132  C -1.55874 2.683901 -0.795609 3 0 3  z " transform="translate(677.192727 673.766527)" style="stroke: #0000ff;fill: #0000ff; stroke: #0000ff"/>
     <path d="M 0 3  C 0.795609 3 1.55874 2.683901 2.12132 2.12132  C 2.683901 1.55874 3 0.795609 3 0  C 3 -0.795609 2.683901 -1.55874 2.12132 -2.12132  C 1.55874 -2.683901 0.795609 -3 0 -3  C -0.795609 -3 -1.55874 -2.683901 -2.12132 -2.12132  C -2.683901 -1.55874 -3 -0.795609 -3 0  C -3 0.795609 -2.683901 1.55874 -2.12132 2.12132  C -1.55874 2.683901 -0.795609 3 0 3  z " transform="translate(828.975868 474.532411)" style="stroke: #0000ff;fill: #0000ff; stroke: #0000ff"/>
    </g>
   </g>
   <g id="line2d_60">
    <path d="M 525.409587 746.819036 
L 677.192727 680.407664 
L 828.975868 487.814686 
" clip-path="url(#p1d5ae398d5)" style="fill: none; stroke-dasharray: 7.4,3.2; stroke-dashoffset: 0; stroke: #008000; stroke-width: 2.25"/>
    <g clip-path="url(#p1d5ae398d5)">
     <path d="M 0 -3  L -3 3  L 3 3  z " transform="translate(525.409587 746.819036)" style="stroke: #008000; stroke-linejoin: miter;fill: #008000; stroke: #008000; stroke-linejoin: miter"/>
     <path d="M 0 -3  L -3 3  L 3 3  z " transform="translate(677.192727 680.407664)" style="stroke: #008000; stroke-linejoin: miter;fill: #008000; stroke: #008000; stroke-linejoin: miter"/>
     <path d="M 0 -3  L -3 3  L 3 3  z " transform="translate(828.975868 487.814686)" style="stroke: #008000; stroke-linejoin: miter;fill: #008000; stroke: #008000; stroke-linejoin: miter"/>
    </g>
   </g>
   <g id="patch_23">
    <path d="M 510.231273 822.528 
L 510.231273 457.265455 
" style="fill: none; stroke: #cccccc; stroke-width: 1.25; stroke-linejoin: miter; stroke-linecap: square"/>
   </g>
   <g id="patch_24">
    <path d="M 844.154182 822.528 
L 844.154182 457.265455 
" style="fill: none; stroke: #cccccc; stroke-width: 1.25; stroke-linejoin: miter; stroke-linecap: square"/>
   </g>
   <g id="patch_25">
    <path d="M 510.231273 822.528 
L 844.154182 822.528 
" style="fill: none; stroke: #cccccc; stroke-width: 1.25; stroke-linejoin: miter; stroke-linecap: square"/>
   </g>
   <g id="patch_26">
    <path d="M 510.231273 457.265455 
L 844.154182 457.265455 
" style="fill: none; stroke: #cccccc; stroke-width: 1.25; stroke-linejoin: miter; stroke-linecap: square"/>
   </g>
   <g id="text_72">
    <text style="font-size: 12.2px; font-family: 'DejaVu Sans', sans-serif; text-anchor: middle; fill: #262626" x="677.192727" y="451.765455" transform="rotate(-0 677.192727 451.765455)">Memory Usage Comparison</text>
   </g>
   <g id="legend_4">
    <g id="patch_27">
     <path d="M 518.123773 532.934798 
L 662.790831 532.934798 
Q 665.045831 532.934798 665.045831 530.679798 
L 665.045831 465.157955 
Q 665.045831 462.902955 662.790831 462.902955 
L 518.123773 462.902955 
Q 515.868773 462.902955 515.868773 465.157955 
L 515.868773 530.679798 
Q 515.868773 532.934798 518.123773 532.934798 
z
" style="fill: #ffffff; opacity: 0.8; stroke: #cccccc; stroke-linejoin: miter"/>
    </g>
    <g id="patch_28">
     <path d="M 520.604273 476.205693 
L 543.154273 476.205693 
L 543.154273 468.313193 
L 520.604273 468.313193 
z
" style="fill: #0000ff; fill-opacity: 0.3; stroke: #0000ff; stroke-opacity: 0.3; stroke-linejoin: miter"/>
    </g>
    <g id="text_73">
     <text style="font-size: 11.275px; font-family: 'DejaVu Sans', sans-serif; text-anchor: start; fill: #262626" x="552.174273" y="476.205693" transform="rotate(-0 552.174273 476.205693)">Traditional Memory</text>
    </g>
    <g id="line2d_61">
     <path d="M 520.604273 488.809029 
L 531.879273 488.809029 
L 543.154273 488.809029 
" style="fill: none; stroke-dasharray: 7.4,3.2; stroke-dashoffset: 0; stroke: #0000ff; stroke-width: 2.25"/>
     <g>
      <path d="M 0 3  C 0.795609 3 1.55874 2.683901 2.12132 2.12132  C 2.683901 1.55874 3 0.795609 3 0  C 3 -0.795609 2.683901 -1.55874 2.12132 -2.12132  C 1.55874 -2.683901 0.795609 -3 0 -3  C -0.795609 -3 -1.55874 -2.683901 -2.12132 -2.12132  C -2.683901 -1.55874 -3 -0.795609 -3 0  C -3 0.795609 -2.683901 1.55874 -2.12132 2.12132  C -1.55874 2.683901 -0.795609 3 0 3  z " transform="translate(531.879273 488.809029)" style="stroke: #0000ff;fill: #0000ff; stroke: #0000ff"/>
     </g>
    </g>
    <g id="text_74">
     <text style="font-size: 11.275px; font-family: 'DejaVu Sans', sans-serif; text-anchor: start; fill: #262626" x="552.174273" y="492.755279" transform="rotate(-0 552.174273 492.755279)">Traditional Memory</text>
    </g>
    <g id="patch_29">
     <path d="M 520.604273 509.304865 
L 543.154273 509.304865 
L 543.154273 501.412365 
L 520.604273 501.412365 
z
" style="fill: #008000; fill-opacity: 0.3; stroke: #008000; stroke-opacity: 0.3; stroke-linejoin: miter"/>
    </g>
    <g id="text_75">
     <text style="font-size: 11.275px; font-family: 'DejaVu Sans', sans-serif; text-anchor: start; fill: #262626" x="552.174273" y="509.304865" transform="rotate(-0 552.174273 509.304865)">Proposed Memory</text>
    </g>
    <g id="line2d_62">
     <path d="M 520.604273 521.908201 
L 531.879273 521.908201 
L 543.154273 521.908201 
" style="fill: none; stroke-dasharray: 7.4,3.2; stroke-dashoffset: 0; stroke: #008000; stroke-width: 2.25"/>
     <g>
      <path d="M 0 -3  L -3 3  L 3 3  z " transform="translate(531.879273 521.908201)" style="stroke: #008000; stroke-linejoin: miter;fill: #008000; stroke: #008000; stroke-linejoin: miter"/>
     </g>
    </g>
    <g id="text_76">
     <text style="font-size: 11.275px; font-family: 'DejaVu Sans', sans-serif; text-anchor: start; fill: #262626" x="552.174273" y="525.854451" transform="rotate(-0 552.174273 525.854451)">Proposed Memory</text>
    </g>
   </g>
  </g>
 </g>
 <defs>
  <clipPath id="pff23d3d60e">
   <rect x="59.013818" y="24.925091" width="334.106182" height="364.987636"/>
  </clipPath>
  <clipPath id="p5073bf8973">
   <rect x="510.231273" y="24.925091" width="333.922909" height="364.987636"/>
  </clipPath>
  <clipPath id="p541cf270d9">
   <rect x="59.013818" y="457.265455" width="334.106182" height="365.262545"/>
  </clipPath>
  <clipPath id="p1d5ae398d5">
   <rect x="510.231273" y="457.265455" width="333.922909" height="365.262545"/>
  </clipPath>
 </defs>
</svg>

</body></html>
